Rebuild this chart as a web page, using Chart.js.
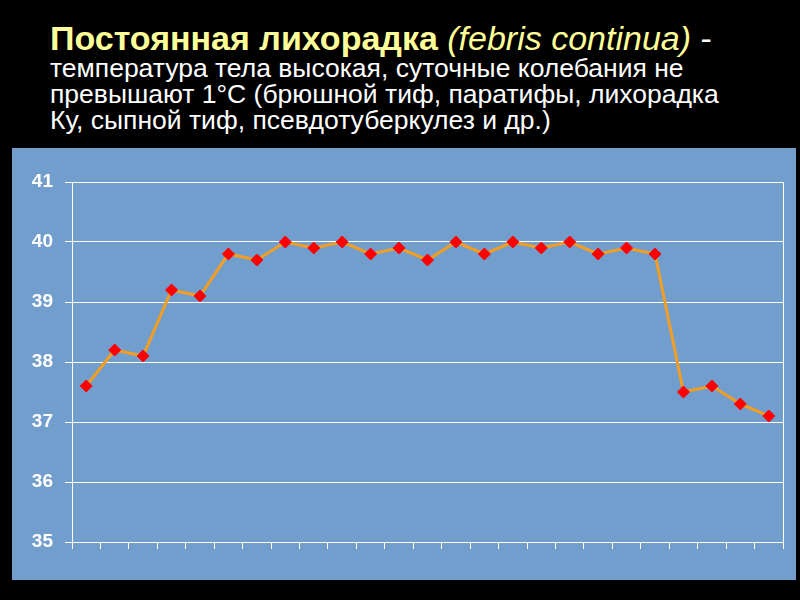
<!DOCTYPE html>
<html>
<head>
<meta charset="utf-8">
<script src="https://cdn.jsdelivr.net/npm/chart.js@4/dist/chart.umd.min.js"></script>
<style>
  html,body{margin:0;padding:0;background:#000;width:800px;height:600px;overflow:hidden;font-family:"Liberation Sans",Arial,sans-serif;}
  .t{position:absolute;left:50px;white-space:nowrap;color:#fff;}
  #l1{top:21px;font-size:34px;line-height:34px;color:#FFFF99;}
  #l1 b{font-weight:bold;}
  #l1 i{font-style:italic;font-weight:normal;}
  #l1 span{color:#fff;}
  .s{font-size:26.5px;line-height:26px;}
  #panel{position:absolute;left:12px;top:148px;width:784px;height:432px;background:#729ECE;}
</style>
</head>
<body>
<div class="t" id="l1"><b>Постоянная лихорадка</b> <i>(febris continua)</i> <span>-</span></div>
<div class="t s" id="l2" style="top:55px">температура тела высокая, суточные колебания не</div>
<div class="t s" id="l3" style="top:81px">превышают 1°С (брюшной тиф, паратифы, лихорадка</div>
<div class="t s" id="l4" style="top:107px">Ку, сыпной тиф, псевдотуберкулез и др.)</div>
<div id="panel"><canvas id="c" width="784" height="432"></canvas></div>
<script>
const days = ["1","2","3","4","5","6","7","8","9","10","11","12","13","14","15","16","17","18","19","20","21","22","23","24","25"];
const temperature = [37.6,38.2,38.1,39.2,39.1,39.8,39.7,40.0,39.9,40.0,39.8,39.9,39.7,40.0,39.8,40.0,39.9,40.0,39.8,39.9,39.8,37.5,37.6,37.3,37.1];
const yTicks = [35,36,37,38,39,40,41];

new Chart(document.getElementById('c'), {
  type: 'line',
  data: {
    labels: days,
    datasets: [{
      data: temperature,
      borderColor: '#F29E22',
      borderWidth: 3,
      pointStyle: 'rectRot',
      pointRadius: 6,
      pointBackgroundColor: '#FF0000',
      pointBorderColor: '#FF0000',
      pointBorderWidth: 1,
      tension: 0,
      yAxisID: 'y'
    }]
  },
  options: {
    responsive: false,
    animation: false,
    devicePixelRatio: 1,
    layout: { padding: { top: 34, left: 0, right: 0, bottom: 0 } },
    plugins: { legend: { display: false }, tooltip: { enabled: false } },
    scales: {
      x: {
        offset: true,
        grid: { display: true, offset: true, drawOnChartArea: false, drawTicks: true, tickLength: 7, color: '#FFFFFF', lineWidth: 1 },
        border: { display: true, color: '#FFFFFF', width: 1 },
        ticks: { display: false },
        afterFit: s => { s.height = 38; }
      },
      y: {
        position: 'left',
        min: 35, max: 41,
        afterBuildTicks: s => { s.ticks = yTicks.map(v => ({ value: v })); },
        grid: { color: '#FFFFFF', lineWidth: 1, tickLength: 7 },
        border: { display: true, color: '#FFFFFF', width: 1 },
        ticks: { color: '#FFFFFF', padding: 12, font: { family: '"Liberation Sans", Arial, sans-serif', size: 19, weight: 'bold' } },
        afterFit: s => { s.width = 60; }
      },
      y2: {
        position: 'right',
        min: 35, max: 41,
        grid: { display: true, drawOnChartArea: false, drawTicks: false },
        border: { display: true, color: '#FFFFFF', width: 1 },
        ticks: { display: false },
        afterFit: s => { s.width = 13; }
      }
    }
  }
});
</script>
</body>
</html>
